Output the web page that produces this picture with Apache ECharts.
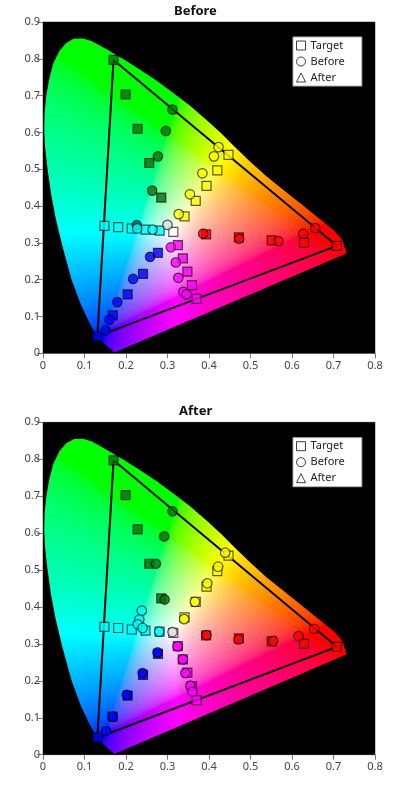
<!DOCTYPE html>
<html><head><meta charset="utf-8">
<script src="https://cdn.jsdelivr.net/npm/echarts@6/dist/echarts.min.js"></script>
<style>html,body{margin:0;padding:0;background:#fff}#c{width:400px;height:793px}</style>
</head><body><div id="c"></div>
<script>
// ---------- axis settings ----------
const xRange = [0, 0.8];
const yRange = [0, 0.9];
const tickStep = 0.1;
const chartTitles = ['Before', 'After'];
const legendNames = ['Target', 'Before', 'After'];

// ---------- spectral locus outline ----------
const locusX = [0.172,0.166,0.157,0.145,0.135,0.124,0.110,0.091,0.069,0.047,0.030,0.020,0.011,0.005,0.003,0.004,0.008,0.015,0.025,0.040,0.056,0.075,0.095,0.118,0.153,0.195,0.234,0.275,0.314,0.355,0.394,0.430,0.461,0.500,0.539,0.580,0.619,0.660,0.700,0.720,0.732];
const locusY = [0.002,0.009,0.017,0.029,0.040,0.058,0.087,0.133,0.200,0.290,0.370,0.430,0.500,0.560,0.610,0.655,0.700,0.745,0.788,0.822,0.843,0.855,0.856,0.848,0.826,0.798,0.770,0.740,0.707,0.672,0.634,0.597,0.562,0.520,0.480,0.443,0.408,0.371,0.335,0.310,0.272];

// ---------- target gamut triangle ----------
const gamutX = [0.170, 0.708, 0.131, 0.170];
const gamutY = [0.797, 0.292, 0.046, 0.797];

// ---------- target points (both charts) ----------
const targetGreen   = [[0.170,0.797],[0.199,0.703],[0.228,0.610],[0.256,0.517],[0.285,0.423]];
const targetYellow  = [[0.447,0.539],[0.420,0.497],[0.394,0.455],[0.368,0.414],[0.341,0.372]];
const targetWhite   = [[0.314,0.330]];
const targetCyan    = [[0.148,0.346],[0.181,0.343],[0.214,0.339],[0.247,0.336],[0.281,0.333]];
const targetBlue    = [[0.131,0.046],[0.168,0.103],[0.204,0.160],[0.241,0.216],[0.277,0.273]];
const targetMagenta = [[0.370,0.148],[0.359,0.185],[0.348,0.222],[0.337,0.258],[0.325,0.294]];
const targetRed     = [[0.708,0.292],[0.629,0.300],[0.551,0.307],[0.472,0.315],[0.393,0.323]];

// ---------- measured before calibration ----------
const beforeGreen   = [[0.312,0.662],[0.296,0.604],[0.277,0.535],[0.263,0.442]];
const beforeYellow  = [[0.423,0.560],[0.412,0.535],[0.384,0.489],[0.354,0.432],[0.327,0.378]];
const beforeWhite   = [[0.300,0.349]];
const beforeTeal    = [[0.226,0.348]];
const beforeCyan    = [[0.227,0.339],[0.264,0.336]];
const beforeBlue    = [[0.151,0.062],[0.160,0.091],[0.179,0.139],[0.217,0.202],[0.258,0.262]];
const beforeMagenta = [[0.308,0.288],[0.320,0.247],[0.326,0.205],[0.338,0.167],[0.346,0.160]];
const beforeRed     = [[0.656,0.340],[0.627,0.325],[0.567,0.305],[0.473,0.311],[0.386,0.325]];

// ---------- measured after calibration ----------
const afterGreen   = [[0.312,0.659],[0.292,0.591],[0.272,0.517],[0.293,0.420]];
const afterYellow  = [[0.439,0.547],[0.422,0.509],[0.396,0.464],[0.366,0.414],[0.340,0.367]];
const afterWhite   = [[0.312,0.332]];
const afterCyan    = [[0.238,0.390],[0.232,0.366],[0.228,0.353],[0.240,0.343],[0.280,0.333]];
const afterBlue    = [[0.152,0.064],[0.168,0.103],[0.202,0.162],[0.240,0.221],[0.276,0.277]];
const afterMagenta = [[0.324,0.293],[0.337,0.258],[0.343,0.221],[0.355,0.187],[0.360,0.171]];
const afterRed     = [[0.653,0.341],[0.616,0.321],[0.555,0.308],[0.471,0.312],[0.394,0.324]];

// ---------- colours ----------
const C = {green:'#0b6e0b', yellow:'#ffff00', white:'#ffffff', grey:'#dcdcdc', teal:'#125e50',
           cyan:'#00ffff', blue:'#0000ff', magenta:'#ff00ff', red:'#ff0000'};
const FONT = 'Noto Sans';

const locus = locusX.map((x, i) => [x, locusY[i]]);
const gamut = gamutX.map((x, i) => [x, gamutY[i]]);

function gam(c) { return c <= 0.0031308 ? 12.92 * c : 1.055 * Math.pow(c, 1 / 2.4) - 0.055; }
function xyToRgb(x, y) {
  y = Math.max(y, 0.001);
  const X = x / y, Y = 1, Z = (1 - x - y) / y;
  let r = 3.2406 * X - 1.5372 * Y - 0.4986 * Z;
  let g = -0.9689 * X + 1.8758 * Y + 0.0415 * Z;
  let b = 0.0557 * X - 0.2040 * Y + 1.0570 * Z;
  r = Math.max(r, 0); g = Math.max(g, 0); b = Math.max(b, 0);
  const m = Math.max(r, g, b) || 1;
  return 'rgb(' + Math.round(255 * gam(r / m)) + ',' + Math.round(255 * gam(g / m)) + ',' + Math.round(255 * gam(b / m)) + ')';
}

// horizontal span of the locus polygon at height y
function span(y) {
  let lo = Infinity, hi = -Infinity;
  const n = locus.length;
  for (let i = 0; i < n; i++) {
    const p = locus[i], q = locus[(i + 1) % n];
    if ((p[1] - y) * (q[1] - y) <= 0 && p[1] !== q[1]) {
      const t = (y - p[1]) / (q[1] - p[1]);
      const x = p[0] + t * (q[0] - p[0]);
      lo = Math.min(lo, x); hi = Math.max(hi, x);
    }
  }
  return [lo, hi];
}

const DY = 0.0025;
const rows = [];
for (let y = DY / 2; y < 0.86; y += DY) {
  const s = span(y);
  if (isFinite(s[0])) rows.push([s[0], y, s[1]]);
}

function rowRender(params, api) {
  const xl = api.value(0), yc = api.value(1), xr = api.value(2);
  const x0 = xl - 0.008, x1 = xr + 0.008;
  const pA = api.coord([x0, yc + DY / 2]);
  const pB = api.coord([x1, yc - DY / 2]);
  const n = Math.max(2, Math.ceil((x1 - x0) / 0.004));
  const stops = [];
  for (let i = 0; i <= n; i++) {
    const t = i / n;
    const x = Math.min(Math.max(x0 + t * (x1 - x0), xl), xr);
    stops.push({offset: t, color: xyToRgb(x, yc)});
  }
  return {
    type: 'rect',
    shape: {x: pA[0], y: pA[1] - 0.4, width: pB[0] - pA[0], height: pB[1] - pA[1] + 0.8},
    style: {fill: {type: 'linear', x: pA[0], y: 0, x2: pB[0], y2: 0, colorStops: stops, global: true}}
  };
}

function maskRender(params, api) {
  const R0 = [-0.05, -0.05];
  const pts = [R0, [-0.05, 0.95], [0.85, 0.95], [0.85, -0.05], R0, locus[0]];
  for (let i = locus.length - 1; i >= 0; i--) pts.push(locus[i]);
  pts.push(R0);
  return {type: 'polygon', shape: {points: pts.map(p => api.coord(p))}, style: {fill: '#000'}};
}

function pts(groups) {
  const out = [];
  groups.forEach(([arr, col]) => arr.forEach(p => out.push({value: p, itemStyle: {color: col}})));
  return out;
}

const targets = pts([[targetGreen, C.green], [targetYellow, C.yellow], [targetWhite, C.white], [targetCyan, C.cyan], [targetBlue, C.blue], [targetMagenta, C.magenta], [targetRed, C.red]]);
const befores = pts([[beforeGreen, C.green], [beforeYellow, C.yellow], [beforeWhite, C.grey], [beforeTeal, C.teal], [beforeCyan, C.cyan], [beforeBlue, C.blue], [beforeMagenta, C.magenta], [beforeRed, C.red]]);
const afters = pts([[afterGreen, C.green], [afterYellow, C.yellow], [afterWhite, C.grey], [afterCyan, C.cyan], [afterBlue, C.blue], [afterMagenta, C.magenta], [afterRed, C.red]]);

const markerStyle = {borderColor: 'rgba(0,0,0,0.8)', borderWidth: 1.2};

function chartSeries(gi, circleName, circleData, emptyName, emptySymbol) {
  const ax = {xAxisIndex: gi, yAxisIndex: gi};
  return [
    Object.assign({type: 'custom', data: rows, encode: {x: [0, 2], y: 1}, renderItem: rowRender, silent: true, z: 1, clip: true}, ax),
    Object.assign({type: 'custom', data: [[0, 0]], renderItem: maskRender, silent: true, z: 2, clip: true}, ax),
    Object.assign({type: 'line', data: gamut, symbol: 'none', lineStyle: {color: '#000', width: 2}, silent: true, z: 3}, ax),
    Object.assign({type: 'scatter', name: 'Target', symbol: 'rect', symbolSize: 9, data: targets, itemStyle: markerStyle, z: 4}, ax),
    Object.assign({type: 'scatter', name: circleName, symbol: 'circle', symbolSize: 9.5, data: circleData, itemStyle: markerStyle, z: 5}, ax),
    Object.assign({type: 'scatter', name: emptyName, symbol: emptySymbol, symbolSize: 9, data: [], z: 5}, ax)
  ];
}

const grids = [
  {left: 43, top: 22, width: 332, height: 331.3},
  {left: 43, top: 422.3, width: 332, height: 332.4}
].map(g => Object.assign(g, {show: true, backgroundColor: '#000', borderColor: '#888', borderWidth: 1}));

function xAx(gi) {
  return {type: 'value', gridIndex: gi, min: xRange[0], max: xRange[1], interval: tickStep,
    axisLine: {show: true, onZero: false, lineStyle: {color: '#777'}},
    axisTick: {show: true, length: 5, lineStyle: {color: '#777'}},
    axisLabel: {color: '#444', fontSize: 11, margin: 7, fontFamily: FONT},
    splitLine: {show: false}};
}
function yAx(gi) {
  return {type: 'value', gridIndex: gi, min: yRange[0], max: yRange[1], interval: tickStep,
    axisLine: {show: true, onZero: false, lineStyle: {color: '#777'}},
    axisTick: {show: true, length: 6, lineStyle: {color: '#777'}},
    axisLabel: {color: '#444', fontSize: 11, margin: 3, fontFamily: FONT},
    splitLine: {show: false}};
}

const legendIcons = ['rect', 'circle', 'triangle'];
function legend(top) {
  return {
    left: 293, top: top, orient: 'vertical', selectedMode: false,
    backgroundColor: '#fff', borderColor: '#b0b0b0', borderWidth: 1, borderRadius: 0,
    padding: [3, 17, 3, 3], itemGap: 5, itemWidth: 9, itemHeight: 9,
    textStyle: {fontSize: 11, color: '#222', fontFamily: FONT},
    itemStyle: {color: '#fff', borderColor: '#111', borderWidth: 1},
    data: legendNames.map((n, i) => ({name: n, icon: legendIcons[i], itemStyle: {color: '#fff', borderColor: '#111', borderWidth: 1}}))
  };
}

const chart = echarts.init(document.getElementById('c'), null, {renderer: 'canvas'});
chart.setOption({
  animation: false,
  backgroundColor: '#fff',
  title: [
    {text: chartTitles[0], left: 174, top: 5, padding: 0, textStyle: {fontSize: 13, fontWeight: 'bold', color: '#111', fontFamily: FONT}},
    {text: chartTitles[1], left: 179, top: 405, padding: 0, textStyle: {fontSize: 13, fontWeight: 'bold', color: '#111', fontFamily: FONT}}
  ],
  legend: [legend(37), legend(437.7)],
  grid: grids,
  xAxis: [xAx(0), xAx(1)],
  yAxis: [yAx(0), yAx(1)],
  series: [].concat(
    chartSeries(0, 'Before', befores, 'After', 'triangle'),
    chartSeries(1, 'After', afters, 'Before', 'circle')
  )
});
</script>
</body></html>
